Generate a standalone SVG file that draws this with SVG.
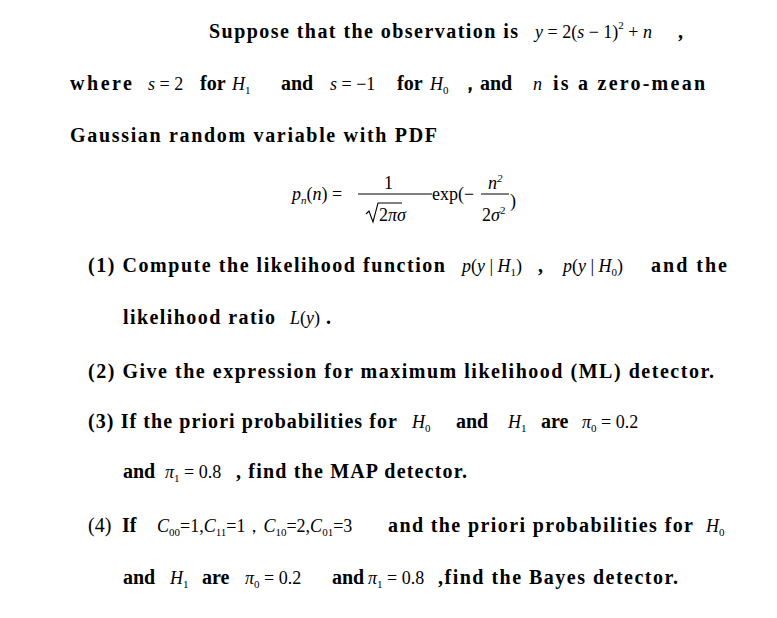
<svg xmlns="http://www.w3.org/2000/svg" width="777" height="618" viewBox="0 0 777 618">
<style>
.b{font-family:"Liberation Serif",serif;font-weight:bold;font-size:20px;fill:#000}
.m{font-family:"Liberation Serif",serif;font-size:18px;fill:#000}
.i{font-style:italic}
.s{font-size:11px}
</style>
<rect width="777" height="618" fill="#fff"/>
<g id="text">
<text class="b" x="209" y="38" textLength="309">Suppose that the observation is</text>
<text class="m" x="535" y="38"><tspan class="i">y</tspan> = 2(<tspan class="i">s</tspan> − 1)<tspan class="s" dy="-9">2</tspan><tspan dy="9"> + </tspan><tspan class="i">n</tspan></text>
<text class="b" x="678" y="38">,</text>

<text class="b" x="70" y="90" textLength="62">where</text>
<text class="m" x="148" y="90"><tspan class="i">s</tspan> = 2</text>
<text class="b" x="200" y="90">for</text>
<text class="m" x="232" y="90"><tspan class="i">H</tspan><tspan class="s" dy="4">1</tspan></text>
<text class="b" x="281" y="90">and</text>
<text class="m" x="330" y="90"><tspan class="i">s</tspan> = −1</text>
<text class="b" x="397" y="90">for</text>
<text class="m" x="430" y="90"><tspan class="i">H</tspan><tspan class="s" dy="4">0</tspan></text>
<text class="b" x="460" y="90">，and</text>
<text class="m i" x="533" y="90">n</text>
<text class="b" x="553" y="90" textLength="152">is a zero-mean</text>

<text class="b" x="70" y="142" textLength="367">Gaussian random variable with PDF</text>

<text class="m" x="292" y="200"><tspan class="i">p</tspan><tspan class="s i" dy="4">n</tspan><tspan dy="-4">(</tspan><tspan class="i">n</tspan>) =</text>
<text class="m" x="384" y="189">1</text>
<line x1="358" y1="194" x2="432" y2="194" stroke="#000" stroke-width="1"/>
<path d="M366,214 l3,-3 l4,11 l5,-19 h24" fill="none" stroke="#000" stroke-width="1.1"/>
<text class="m" x="379" y="221"><tspan>2</tspan><tspan class="i">πσ</tspan></text>
<text class="m" x="432" y="200">exp(−</text>
<text class="m i" x="488" y="189">n<tspan class="s" dy="-7">2</tspan></text>
<line x1="481" y1="194" x2="509" y2="194" stroke="#000" stroke-width="1"/>
<text class="m" x="482" y="221">2<tspan class="i">σ</tspan><tspan class="s" dy="-7">2</tspan></text>
<text class="m" x="510" y="207">)</text>

<text class="b" x="88" y="272" textLength="357">(1) Compute the likelihood function</text>
<text class="m" x="462" y="272"><tspan class="i">p</tspan>(<tspan class="i">y</tspan> | <tspan class="i">H</tspan><tspan class="s" dy="4">1</tspan><tspan dy="-4">)</tspan></text>
<text class="b" x="538" y="272">,</text>
<text class="m" x="563" y="272"><tspan class="i">p</tspan>(<tspan class="i">y</tspan> | <tspan class="i">H</tspan><tspan class="s" dy="4">0</tspan><tspan dy="-4">)</tspan></text>
<text class="b" x="651" y="272" textLength="76">and the</text>
<text class="b" x="123" y="324" textLength="152">likelihood ratio</text>
<text class="m" x="290" y="324"><tspan class="i">L</tspan>(<tspan class="i">y</tspan>)</text>
<text class="b" x="326" y="324">.</text>

<text class="b" x="88" y="378" textLength="626">(2) Give the expression for maximum likelihood (ML) detector.</text>

<text class="b" x="88" y="428" textLength="309">(3) If the priori probabilities for</text>
<text class="m" x="412" y="428"><tspan class="i">H</tspan><tspan class="s" dy="4">0</tspan></text>
<text class="b" x="456" y="428">and</text>
<text class="m" x="508" y="428"><tspan class="i">H</tspan><tspan class="s" dy="4">1</tspan></text>
<text class="b" x="541" y="428">are</text>
<text class="m" x="582" y="428"><tspan class="i">π</tspan><tspan class="s" dy="4">0</tspan><tspan dy="-4"> = 0.2</tspan></text>
<text class="b" x="123" y="478">and</text>
<text class="m" x="165" y="478"><tspan class="i">π</tspan><tspan class="s" dy="4">1</tspan><tspan dy="-4"> = 0.8</tspan></text>
<text class="b" x="236" y="478" textLength="231">, find the MAP detector.</text>

<text class="m" x="88" y="532" style="font-size:20px">(4)</text>
<text class="b" x="122" y="532">If</text>
<text class="m" x="157" y="532"><tspan class="i">C</tspan><tspan class="s" dy="4">00</tspan><tspan dy="-4">=1,</tspan><tspan class="i">C</tspan><tspan class="s" dy="4">11</tspan><tspan dy="-4">=1，</tspan><tspan class="i">C</tspan><tspan class="s" dy="4">10</tspan><tspan dy="-4">=2,</tspan><tspan class="i">C</tspan><tspan class="s" dy="4">01</tspan><tspan dy="-4">=3</tspan></text>
<text class="b" x="388" y="532" textLength="305">and the priori probabilities for</text>
<text class="m" x="706" y="532"><tspan class="i">H</tspan><tspan class="s" dy="4">0</tspan></text>
<text class="b" x="123" y="584">and</text>
<text class="m" x="170" y="584"><tspan class="i">H</tspan><tspan class="s" dy="4">1</tspan></text>
<text class="b" x="202" y="584">are</text>
<text class="m" x="245" y="584"><tspan class="i">π</tspan><tspan class="s" dy="4">0</tspan><tspan dy="-4"> = 0.2</tspan></text>
<text class="b" x="332" y="584">and</text>
<text class="m" x="368" y="584"><tspan class="i">π</tspan><tspan class="s" dy="4">1</tspan><tspan dy="-4"> = 0.8</tspan></text>
<text class="b" x="438" y="584" textLength="240">,find the Bayes detector.</text>
</g>
</svg>
